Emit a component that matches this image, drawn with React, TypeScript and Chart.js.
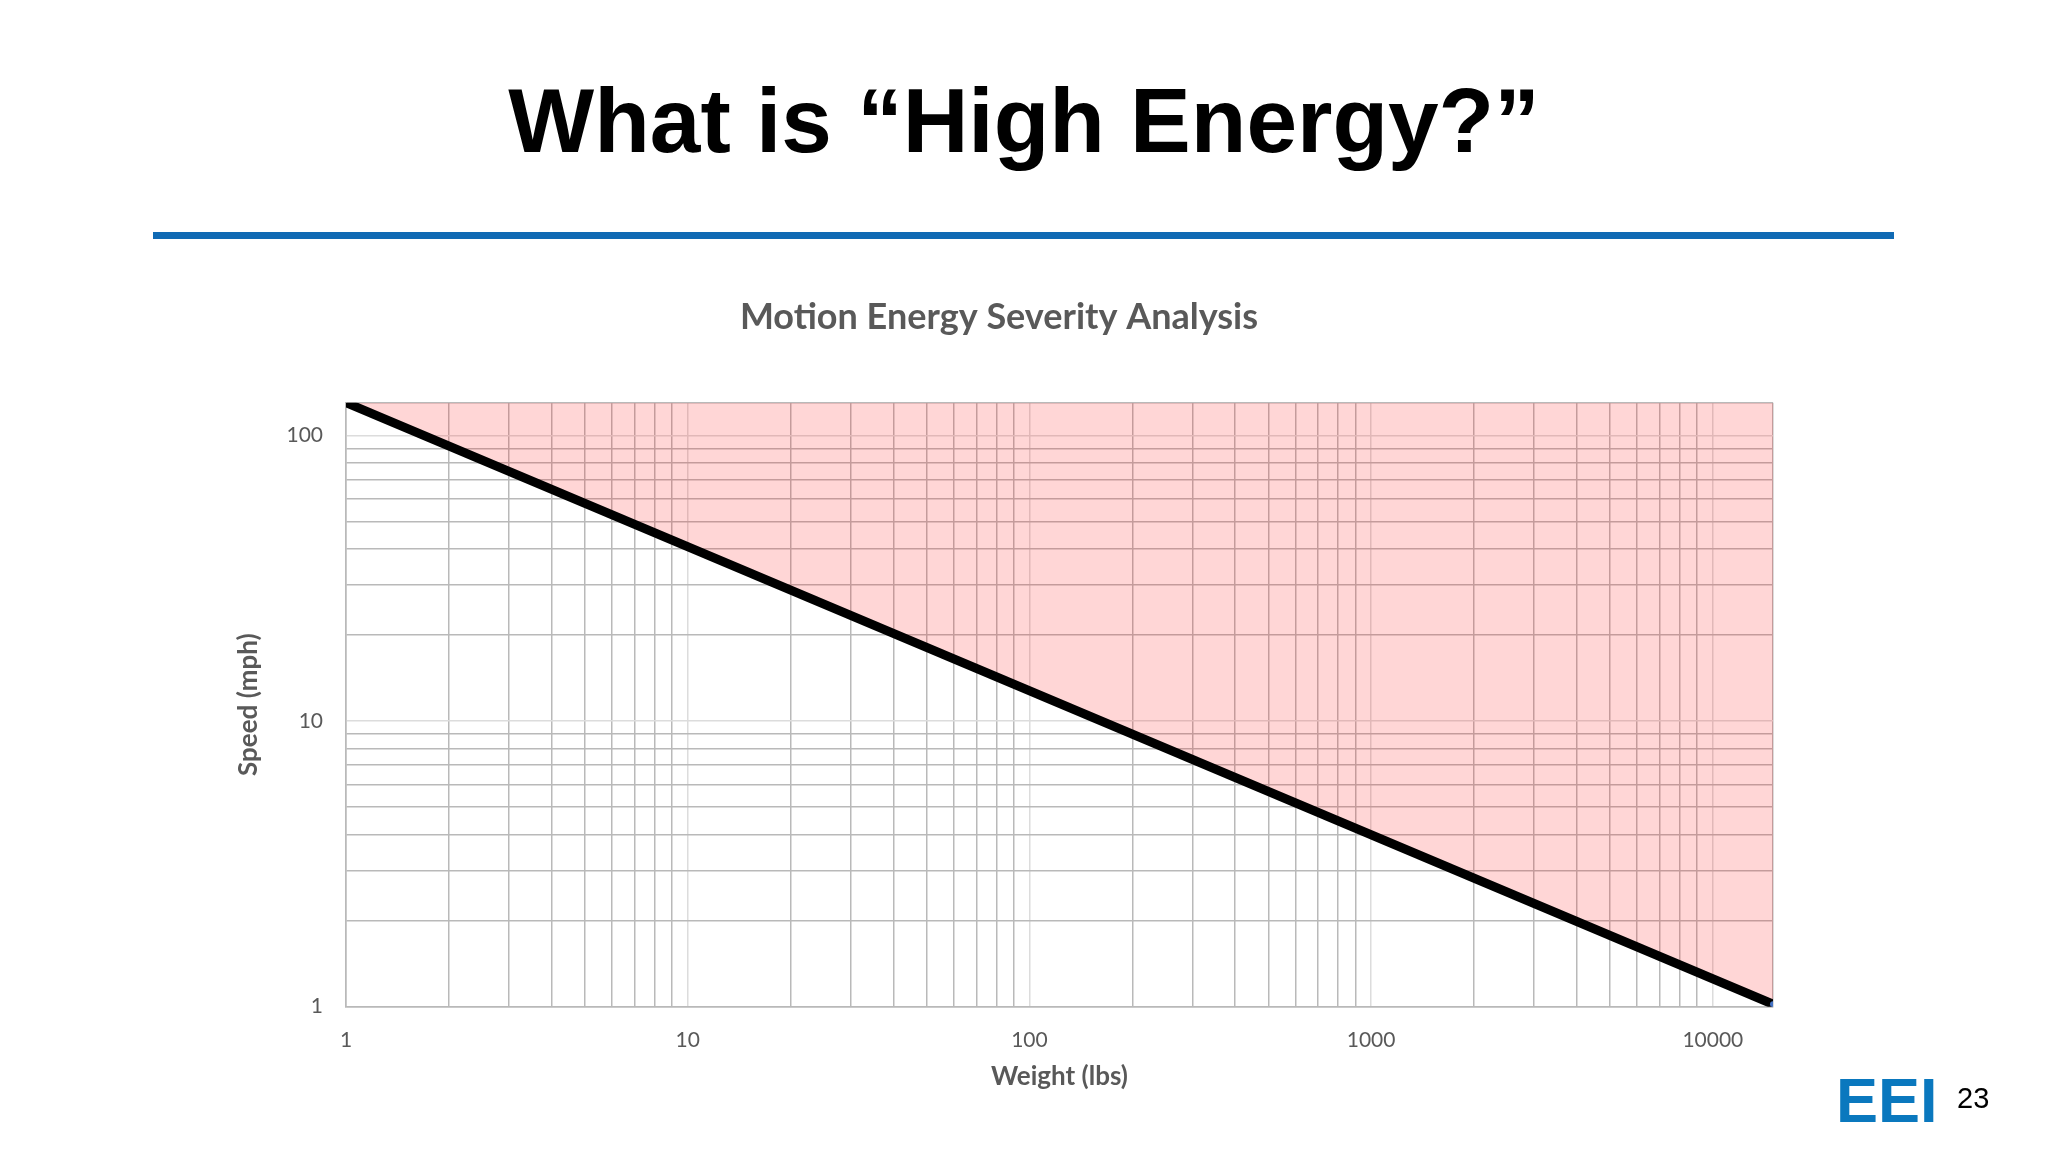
import React, { useEffect, useRef } from 'react';
import { Chart, registerables } from 'chart.js';

Chart.register(...registerables);

// ---- text ----
const slideTitle = 'What is \u201CHigh Energy?\u201D';
const chartTitle = 'Motion Energy Severity Analysis';
const xAxisTitle = 'Weight (lbs)';
const yAxisTitle = 'Speed (mph)';
const pageNumber = '23';
const logoText = 'EEI';

// ---- data ----
const weightLbs = [1, 15000];
const speedMph = [130, 1.02];

// ---- axes ----
const xMin = 1;
const xMax = 15000;
const yMin = 1;
const yMax = 130;
const xGridValues = [
  1, 2, 3, 4, 5, 6, 7, 8, 9,
  10, 20, 30, 40, 50, 60, 70, 80, 90,
  100, 200, 300, 400, 500, 600, 700, 800, 900,
  1000, 2000, 3000, 4000, 5000, 6000, 7000, 8000, 9000,
  10000, 15000,
];
const yGridValues = [
  1, 2, 3, 4, 5, 6, 7, 8, 9,
  10, 20, 30, 40, 50, 60, 70, 80, 90,
  100, 130,
];
const xTickLabels = [1, 10, 100, 1000, 10000];
const yTickLabels = [1, 10, 100];

const GRID_MINOR = '#b9b9b9';
const GRID_MAJOR = '#dcdcdc';
const TEXT_GRAY = '#595959';

function gridColor(labels: number[]) {
  return (ctx: any) => {
    const v = ctx.tick ? ctx.tick.value : null;
    return v !== 1 && labels.includes(v) ? GRID_MAJOR : GRID_MINOR;
  };
}

function EnergyChart() {
  const ref = useRef<HTMLCanvasElement | null>(null);

  useEffect(() => {
    if (!ref.current) return;
    const points = weightLbs.map((w, i) => ({ x: w, y: speedMph[i] }));
    const chart = new Chart(ref.current, {
      type: 'line',
      data: {
        datasets: [
          {
            data: points,
            borderColor: '#000000',
            borderWidth: 9,
            fill: 'end',
            backgroundColor: 'rgba(255,0,0,0.16)',
            pointRadius: (ctx: any) => (ctx.dataIndex === weightLbs.length - 1 ? 3 : 0),
            pointBackgroundColor: '#4472c4',
            pointBorderWidth: 0,
            tension: 0,
          } as any,
        ],
      },
      options: {
        responsive: false,
        animation: false,
        devicePixelRatio: 1,
        layout: { padding: { left: 225, right: 275, top: 0, bottom: 45.3 } },
        plugins: {
          legend: { display: false },
          tooltip: { enabled: false },
          title: {
            display: true,
            text: chartTitle,
            color: TEXT_GRAY,
            font: { family: 'Lato', size: 36, weight: 'bold' },
            padding: { top: 25.4, bottom: 64.1 },
          },
        },
        scales: {
          x: {
            type: 'logarithmic',
            min: xMin,
            max: xMax,
            afterBuildTicks: (s: any) => {
              s.ticks = xGridValues.map((v) => ({ value: v }));
            },
            afterFit: (s: any) => {
              s.height = 100;
            },
            ticks: {
              autoSkip: false,
              maxRotation: 0,
              minRotation: 0,
              padding: 20.7,
              color: TEXT_GRAY,
              font: { family: 'Lato', size: 21 },
              callback: (v: any) => (xTickLabels.includes(Number(v)) ? String(v) : ''),
            },
            grid: { color: gridColor(xTickLabels), lineWidth: 1.5, drawTicks: false },
            border: { color: GRID_MINOR, width: 1.5 },
            title: {
              display: true,
              text: xAxisTitle,
              color: TEXT_GRAY,
              font: { family: 'Lato', size: 26, weight: 'bold' },
              padding: { top: 0, bottom: 14.1 },
            },
          },
          y: {
            type: 'logarithmic',
            min: yMin,
            max: yMax,
            afterBuildTicks: (s: any) => {
              s.ticks = yGridValues.map((v) => ({ value: v }));
            },
            afterFit: (s: any) => {
              s.width = 121;
            },
            ticks: {
              autoSkip: false,
              padding: 23,
              color: TEXT_GRAY,
              font: { family: 'Lato', size: 21 },
              callback: (v: any) => (yTickLabels.includes(Number(v)) ? String(v) : ''),
            },
            grid: { color: gridColor(yTickLabels), lineWidth: 1.5, drawTicks: false },
            border: { color: GRID_MINOR, width: 1.5 },
            title: {
              display: true,
              text: yAxisTitle,
              color: TEXT_GRAY,
              font: { family: 'Lato', size: 26, weight: 'bold' },
              padding: { top: 8.4, bottom: 0 },
            },
          },
        },
      } as any,
    });
    return () => chart.destroy();
  }, []);

  return (
    <canvas
      ref={ref}
      width={2048}
      height={882}
      style={{ position: 'absolute', left: 0, top: 270, width: 2048, height: 882, display: 'block' }}
    />
  );
}

export default function App() {
  return (
    <div
      style={{
        position: 'absolute',
        left: 0,
        top: 0,
        width: 2048,
        height: 1152,
        background: '#ffffff',
        overflow: 'hidden',
      }}
    >
      <div
        style={{
          position: 'absolute',
          left: 0,
          top: 74.7,
          width: 2048,
          textAlign: 'center',
          fontFamily: '"Liberation Sans", Arial, sans-serif',
          fontWeight: 'bold',
          fontSize: 91,
          lineHeight: 1,
          color: '#000000',
          whiteSpace: 'nowrap',
        }}
      >
        {slideTitle}
      </div>
      <div
        style={{
          position: 'absolute',
          left: 153,
          top: 232,
          width: 1741,
          height: 6.5,
          background: '#106ab4',
        }}
      />
      <EnergyChart />
      <div
        style={{
          position: 'absolute',
          left: 1836,
          top: 1069,
          fontFamily: '"Liberation Sans", Arial, sans-serif',
          fontWeight: 'bold',
          fontSize: 63,
          lineHeight: 1,
          letterSpacing: 0,
          color: '#0a78be',
          whiteSpace: 'nowrap',
        }}
      >
        {logoText}
      </div>
      <div
        style={{
          position: 'absolute',
          left: 1957,
          top: 1084,
          fontFamily: '"Liberation Sans", Arial, sans-serif',
          fontSize: 29,
          lineHeight: 1,
          color: '#000000',
          whiteSpace: 'nowrap',
        }}
      >
        {pageNumber}
      </div>
    </div>
  );
}
